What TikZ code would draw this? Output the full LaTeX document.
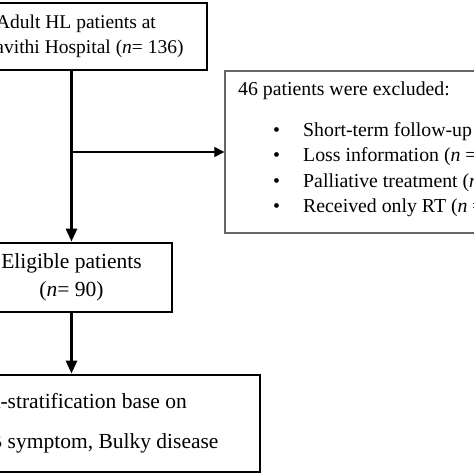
\documentclass[tikz,border=0pt]{standalone}
\usepackage{fontspec}
\setmainfont{Liberation Serif}
\usetikzlibrary{arrows.meta,positioning}

\begin{document}
\begin{tikzpicture}[x=1pt,y=-1pt]
\tikzset{
  flowbox/.style={draw=black,line width=2.8pt,inner sep=0pt,align=center},
  exclbox/.style={draw=black!60,line width=1.3pt,inner sep=0pt},
  mainarrow/.style={line width=2.8pt,-{Triangle[length=13pt,width=11pt]}},
  sidearrow/.style={line width=1.2pt,-{Triangle[length=10pt,width=10pt]}},
  reasontext/.style={anchor=base west,inner sep=0pt,font=\fontsize{19.8}{24}\selectfont}
}
\useasboundingbox (0,0) rectangle (474,474);
\clip (0,0) rectangle (474,474);

% boxes of the main flow
\node[flowbox,minimum width=262pt,minimum height=67pt,font=\fontsize{19.5}{25}\selectfont] (hosp) at (76,36.5)
  {Adult HL patients at\\Rajavithi Hospital (\textit{n}= 136)};
\node[flowbox,minimum width=201pt,minimum height=69pt,font=\fontsize{21.5}{28}\selectfont] (elig) at (71.5,277.5)
  {Eligible patients\\(\textit{n}= 90)};
\node[flowbox,minimum width=372pt,minimum height=97pt,font=\fontsize{21.5}{40}\selectfont] (risk) at (74,423.5)
  {Risk-stratification base on\\Stage, B symptom, Bulky disease};

% excluded patients
\node[exclbox,minimum width=335pt,minimum height=162pt] (excl) at (392.5,152) {};
\node[reasontext] (excltitle) at (238,95) {46 patients were excluded:};
\foreach \yy/\reason [count=\i] in {136/{Short-term follow-up},161.5/{Loss information (\textit{n} =},
    187/{Palliative treatment (\textit{n} =},212.5/{Received only RT (\textit{n} =}} {
  \node[reasontext] (bul\i) at (273,\yy) {\textbullet};
  \node[reasontext] (reason\i) at (303,\yy) {\reason};
}

% connectors
\draw[mainarrow] (elig.north |- hosp.south) -- (elig.north);
\draw[sidearrow] (elig.north |- excl.west) -- (excl.west);
\draw[mainarrow] (elig.south) -- (elig.south |- risk.north);
\end{tikzpicture}
\end{document}
